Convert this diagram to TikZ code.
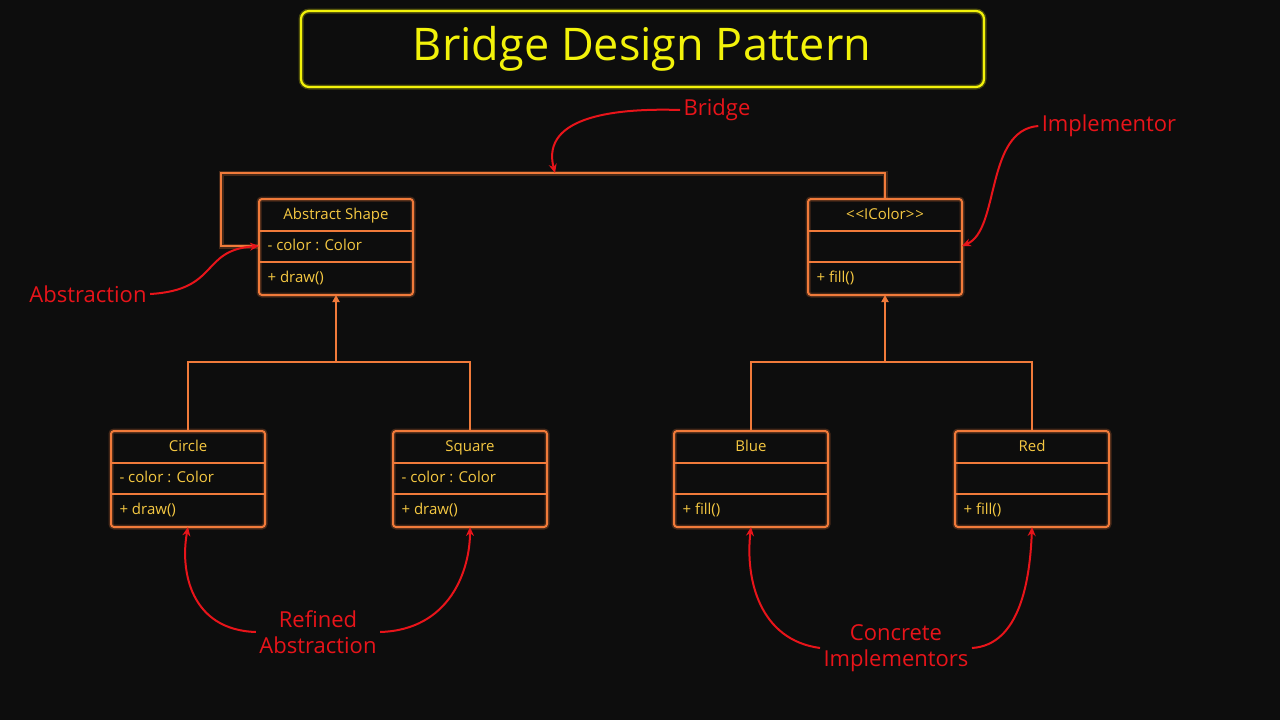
\documentclass[tikz,border=0pt]{standalone}
\usepackage{fontspec}
\setmainfont{Open Sans}
\usetikzlibrary{arrows.meta}
\definecolor{bg}{HTML}{0D0D0D}
\definecolor{org}{HTML}{F07A3A}
\definecolor{txt}{HTML}{F5C842}
\definecolor{rd}{HTML}{E8141A}
\definecolor{ylw}{HTML}{F2F20A}
\tikzset{
  x=1pt,y=-1pt,
  glow/.style={draw=org,line width=5pt,opacity=0.25},
  ln/.style={draw=org,line width=2pt},
  inh/.style={ln,-{Triangle[length=7pt,width=7pt]}},
  red/.style={draw=rd,line width=2pt,-{Stealth[length=9pt,width=8pt]}},
  lab/.style={text=rd,font=\fontsize{22}{22}\selectfont,align=center},
  cell/.style={text=txt,font=\fontsize{15}{17}\selectfont,text height=11pt,text depth=3pt},
}
\newcommand{\umlbox}[6]{% name, x, y, title, attr, method
  \draw[glow,rounded corners=3pt] (#2,#3) rectangle ++(154,96);
  \draw[ln,rounded corners=3pt] (#2,#3) rectangle ++(154,96);
  \draw[ln] (#2,#3+32) -- ++(154,0);
  \draw[ln] (#2,#3+63) -- ++(154,0);
  \node[cell] (#1) at (#2+77,#3+16) {#4};
  \node[cell,anchor=west] (#1a) at (#2+5,#3+47) {#5};
  \node[cell,anchor=west] (#1m) at (#2+5,#3+79) {#6};
  \coordinate (#1N) at (#2+77,#3);
  \coordinate (#1S) at (#2+77,#3+96);
  \coordinate (#1W) at (#2,#3+47);
  \coordinate (#1E) at (#2+154,#3+47);
}
\begin{document}
\begin{tikzpicture}
\fill[bg] (0,0) rectangle (1280,720);
\useasboundingbox (0,0) rectangle (1280,720);
\draw[ylw,line width=5pt,opacity=0.25,rounded corners=8pt] (301,11) rectangle (984,87);
\draw[ylw,line width=2.2pt,rounded corners=8pt] (301,11) rectangle (984,87);
\node[text=ylw,font=\fontsize{45}{50}\selectfont] (title) at (642,49) {Bridge Design Pattern};

\umlbox{abs}{259}{199}{Abstract Shape}{- color : Color}{+ draw()}
\umlbox{ic}{808}{199}{<\kern1pt<IColor>\kern1pt>}{}{+ fill()}
\umlbox{cir}{111}{431}{Circle}{- color : Color}{+ draw()}
\umlbox{sq}{393}{431}{Square}{- color : Color}{+ draw()}
\umlbox{bl}{674}{431}{Blue}{}{+ fill()}
\umlbox{re}{955}{431}{Red}{}{+ fill()}

% bridge
\draw[glow] (absW) -- (221,246) -- (221,173) -- (885,173) -- (icN);
\draw[ln] (absW) -- (221,246) -- (221,173) -- (885,173) -- (icN);
\coordinate (bmid) at (555,173);

% inheritance
\coordinate (lj) at (336,362); \coordinate (rj) at (885,362);
\draw[ln] (cirN) |- (lj) -| (sqN);
\draw[inh] (lj) -- (absS);
\draw[ln] (blN) |- (rj) -| (reN);
\draw[inh] (rj) -- (icS);

% labels
\node[lab] (lbridge) at (717,110) {Bridge};
\node[lab] (limpl) at (1109,126) {Implementor};
\node[lab] (labs) at (88,294) {Abstraction};
\node[lab] (lref) at (318,632) {Refined\\[4pt]Abstraction};
\node[lab] (lcon) at (896,648) {Concrete\\[4pt]Implementors};

\draw[red] (lbridge.west) .. controls (620,108) and (540,115) .. (bmid);
\draw[red] (limpl.west) .. controls (985,130) and (1000,230) .. (icE);
\draw[red] (labs.east) .. controls (220,290) and (200,250) .. (absW);
\draw[red] (lref.west) .. controls (190,630) and (180,570) .. (cirS);
\draw[red] (lref.east) .. controls (450,630) and (470,570) .. (sqS);
\draw[red] (lcon.west) .. controls (760,640) and (745,580) .. (blS);
\draw[red] (lcon.east) .. controls (1020,645) and (1030,580) .. (reS);
\end{tikzpicture}
\end{document}
